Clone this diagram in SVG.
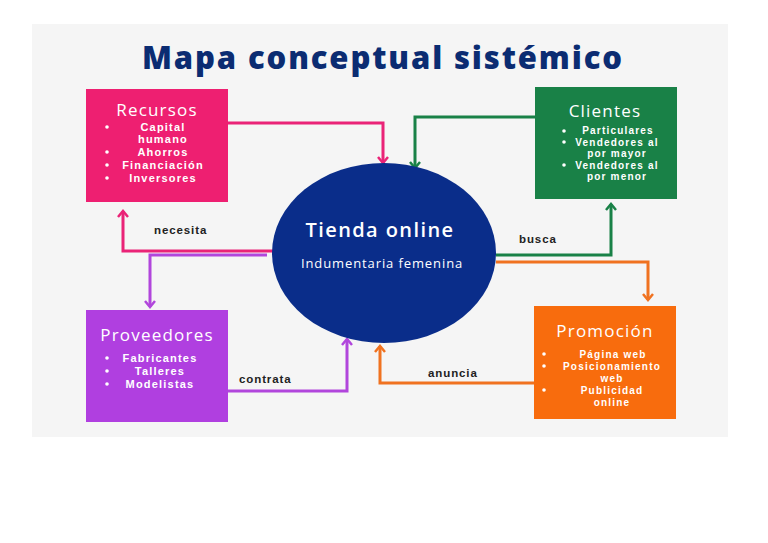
<svg xmlns="http://www.w3.org/2000/svg" width="768" height="543" viewBox="0 0 768 543">
<defs>
<style>
.title{font-family:"Open Sans","Liberation Sans",sans-serif;font-weight:800;font-size:31px;fill:#0b2c72;}
.bt{font-family:"Open Sans","Liberation Sans",sans-serif;font-weight:500;font-size:17px;fill:#ffffff;text-anchor:middle;letter-spacing:1.2px;}
.bl{font-family:"Liberation Sans",Arial,sans-serif;font-weight:700;font-size:11px;fill:#ffffff;text-anchor:middle;letter-spacing:1.2px;}
.bs{font-size:10px;letter-spacing:1.2px;}
.dot{fill:#ffffff;}
.lbl{font-family:"Liberation Sans",Arial,sans-serif;font-weight:700;font-size:11.5px;fill:#222222;letter-spacing:0.9px;}
.c{fill:none;stroke-width:3;}
.pink{stroke:#ea2377;}
.green{stroke:#198147;}
.purple{stroke:#b146dc;}
.orange{stroke:#f07220;}
</style>
<marker id="mPink" viewBox="-8 -7 10 14" markerWidth="10" markerHeight="14" refX="0" refY="0" orient="auto" markerUnits="userSpaceOnUse"><path d="M-6,-5 L0,0 L-6,5" fill="none" stroke="#ea2377" stroke-width="2.5"/></marker>
<marker id="mGreen" viewBox="-8 -7 10 14" markerWidth="10" markerHeight="14" refX="0" refY="0" orient="auto" markerUnits="userSpaceOnUse"><path d="M-6,-5 L0,0 L-6,5" fill="none" stroke="#198147" stroke-width="2.5"/></marker>
<marker id="mPurple" viewBox="-8 -7 10 14" markerWidth="10" markerHeight="14" refX="0" refY="0" orient="auto" markerUnits="userSpaceOnUse"><path d="M-6,-5 L0,0 L-6,5" fill="none" stroke="#b146dc" stroke-width="2.5"/></marker>
<marker id="mOrange" viewBox="-8 -7 10 14" markerWidth="10" markerHeight="14" refX="0" refY="0" orient="auto" markerUnits="userSpaceOnUse"><path d="M-6,-5 L0,0 L-6,5" fill="none" stroke="#f07220" stroke-width="2.5"/></marker>
</defs>
<rect x="0" y="0" width="768" height="543" fill="#ffffff"/>
<rect x="32" y="24" width="696" height="413" fill="#f5f5f5"/>
<text class="title" x="142" y="69" textLength="480" lengthAdjust="spacing">Mapa conceptual sistémico</text>

<g id="connectors">
<path class="c pink" d="M228,123 H383 V163" marker-end="url(#mPink)"/>
<path class="c pink" d="M278,251 H123 V211" marker-end="url(#mPink)"/>
<path class="c purple" d="M267,255 H150 V307" marker-end="url(#mPurple)"/>
<path class="c purple" d="M228,391 H347 V339" marker-end="url(#mPurple)"/>
<path class="c green" d="M535,117 H415 V168" marker-end="url(#mGreen)"/>
<path class="c green" d="M496,255 H611 V204" marker-end="url(#mGreen)"/>
<path class="c orange" d="M496,262 H648 V300" marker-end="url(#mOrange)"/>
<path class="c orange" d="M534,383 H380 V346" marker-end="url(#mOrange)"/>
<text class="lbl" x="154" y="234">necesita</text>
<text class="lbl" x="239" y="383">contrata</text>
<text class="lbl" x="519" y="243">busca</text>
<text class="lbl" x="428" y="377">anuncia</text>
</g>

<g id="tienda">
<ellipse cx="384" cy="253" rx="112" ry="90" fill="#0a2d8a"/>
<text x="380" y="237" text-anchor="middle" style="font-family:'Open Sans','Liberation Sans',sans-serif;font-weight:600;font-size:20px;fill:#ffffff;letter-spacing:1.4px">Tienda online</text>
<text x="382" y="268" text-anchor="middle" style="font-family:'Open Sans','Liberation Sans',sans-serif;font-weight:400;font-size:13px;fill:#ffffff;letter-spacing:0.9px">Indumentaria femenina</text>
</g>

<g id="recursos">
<rect x="86" y="89" width="142" height="113" fill="#ee1f71"/>
<text class="bt" x="157" y="115.5">Recursos</text>
<circle class="dot" cx="107" cy="127" r="1.8"/>
<circle class="dot" cx="107" cy="152" r="1.8"/>
<circle class="dot" cx="107" cy="165" r="1.8"/>
<circle class="dot" cx="107" cy="178" r="1.8"/>
<text class="bl" x="163" y="130.5">Capital</text>
<text class="bl" x="163" y="143">humano</text>
<text class="bl" x="163" y="156">Ahorros</text>
<text class="bl" x="163" y="169">Financiación</text>
<text class="bl" x="163" y="182">Inversores</text>
</g>

<g id="clientes">
<rect x="535" y="87" width="142" height="112" fill="#198147"/>
<text class="bt" x="605" y="117">Clientes</text>
<circle class="dot" cx="564" cy="131" r="1.8"/>
<circle class="dot" cx="564" cy="142" r="1.8"/>
<circle class="dot" cx="564" cy="165" r="1.8"/>
<text class="bl bs" x="618" y="134">Particulares</text>
<text class="bl bs" x="617" y="145.5">Vendedores al</text>
<text class="bl bs" x="617" y="157">por mayor</text>
<text class="bl bs" x="617" y="168.5">Vendedores al</text>
<text class="bl bs" x="617" y="180">por menor</text>
</g>

<g id="proveedores">
<rect x="86" y="310" width="142" height="112" fill="#b03fe0"/>
<text class="bt" x="157" y="341">Proveedores</text>
<circle class="dot" cx="107" cy="358" r="1.8"/>
<circle class="dot" cx="107" cy="371" r="1.8"/>
<circle class="dot" cx="107" cy="384" r="1.8"/>
<text class="bl" x="160" y="362">Fabricantes</text>
<text class="bl" x="160" y="375">Talleres</text>
<text class="bl" x="160" y="388">Modelistas</text>
</g>

<g id="promocion">
<rect x="534" y="306" width="142" height="113" fill="#f86c0d"/>
<text class="bt" x="605" y="337">Promoción</text>
<circle class="dot" cx="544" cy="354" r="1.8"/>
<circle class="dot" cx="544" cy="366" r="1.8"/>
<circle class="dot" cx="544" cy="390" r="1.8"/>
<text class="bl bs" x="613" y="358">Página web</text>
<text class="bl bs" x="612" y="370">Posicionamiento</text>
<text class="bl bs" x="612" y="382">web</text>
<text class="bl bs" x="612" y="394">Publicidad</text>
<text class="bl bs" x="612" y="406">online</text>
</g>
</svg>
